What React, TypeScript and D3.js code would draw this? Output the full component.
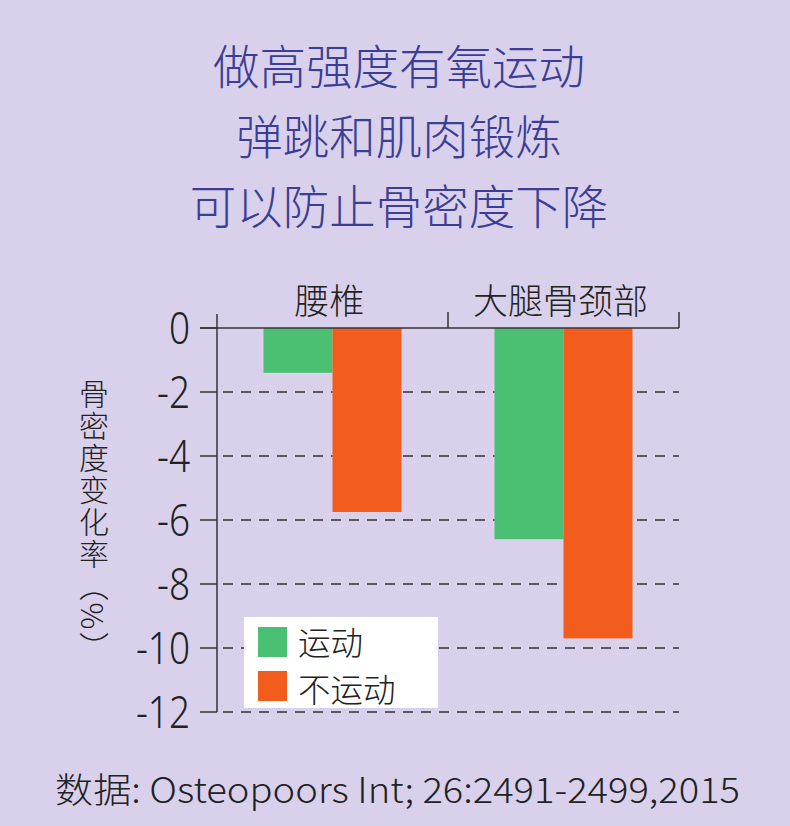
import React from "react";
import * as d3 from "d3";

const titleLines = ["做高强度有氧运动", "弹跳和肌肉锻炼", "可以防止骨密度下降"];
const categories = ["腰椎", "大腿骨颈部"];
const seriesNames = ["运动", "不运动"];
const exerciseValues = [-1.4, -6.6];
const noExerciseValues = [-5.75, -9.7];
const yTicks = [0, -2, -4, -6, -8, -10, -12];
const yLabel = "骨密度变化率（%）";
const source = "数据: Osteopoors Int; 26:2491-2499,2015";

const colors = ["#4cc072", "#f25c1c"];
const W = 790, H = 826;
const FONT = "'Noto Sans CJK SC', 'Noto Sans', sans-serif";

export default function App() {
  const left = 217, right = 679, top = 328, bottom = 712;
  const y = d3.scaleLinear().domain([0, -12]).range([top, bottom]);
  const x0 = d3.scaleBand().domain(categories).range([left, right]).paddingInner(0).paddingOuter(0);
  const inner = 138;
  const x1 = d3.scaleBand().domain(seriesNames).range([0, inner]);
  const series = [exerciseValues, noExerciseValues];
  const axisColor = "#333";

  return (
    <svg width={W} height={H} style={{ display: "block", position: "absolute", left: 0, top: 0 }}>
      <rect width={W} height={H} fill="#d9d1ec" />
      {titleLines.map((t, i) => (
        <text key={t} x={399} y={63 + i * 70} textAnchor="middle" dominantBaseline="central"
          fontFamily={FONT} fontSize={46.5} fill="#3b3d96" fontWeight={300}>{t}</text>
      ))}
      {yTicks.filter(v => v !== 0).map(v => (
        <line key={v} x1={left} x2={right} y1={y(v)} y2={y(v)} stroke={axisColor} strokeWidth={1.3}
          strokeDasharray="10 8" strokeDashoffset={-6} />
      ))}
      {categories.map((c, ci) => {
        const gx = (x0(c) as number) + (x0.bandwidth() - inner) / 2;
        return series.map((s, si) => (
          <rect key={c + si} x={gx + (x1(seriesNames[si]) as number)} y={y(0)}
            width={x1.bandwidth()} height={y(s[ci]) - y(0)} fill={colors[si]} />
        ));
      })}
      <line x1={200} x2={right} y1={y(0)} y2={y(0)} stroke={axisColor} strokeWidth={1.5} />
      <line x1={left} x2={left} y1={y(0) - 14} y2={y(-12)} stroke={axisColor} strokeWidth={1.5} />
      {yTicks.map(v => (
        <g key={v}>
          <line x1={200} x2={left} y1={y(v)} y2={y(v)} stroke={axisColor} strokeWidth={1.5} />
          <text transform={`translate(190,${y(v) + 16}) scale(0.84,1)`} textAnchor="end"
            fontFamily="'Noto Sans', sans-serif" fontSize={44} fill="#222" fontWeight={300}>
            {v === 0 ? "0" : `-${Math.abs(v)}`}
          </text>
        </g>
      ))}
      {categories.map(c => (
        <g key={c}>
          <line x1={(x0(c) as number) + x0.bandwidth()} x2={(x0(c) as number) + x0.bandwidth()}
            y1={y(0)} y2={y(0) - 16} stroke={axisColor} strokeWidth={1.5} />
          <text x={(x0(c) as number) + x0.bandwidth() / 2 - 3} y={298} textAnchor="middle" dominantBaseline="central"
            fontFamily={FONT} fontSize={35} fill="#222" fontWeight={300}>{c}</text>
        </g>
      ))}
      <text x={94} y={521} textAnchor="middle" dominantBaseline="central" fontFamily={FONT} fontSize={30}
        fill="#222" fontWeight={300} letterSpacing={2}
        style={{ writingMode: "vertical-rl" as any }}>{yLabel}</text>
      <rect x={244} y={617} width={194} height={91} fill="#fff" />
      {seriesNames.map((n, i) => (
        <g key={n}>
          <rect x={258} y={627 + i * 44} width={29} height={30} fill={colors[i]} />
          <text x={298} y={640 + i * 47} dominantBaseline="central" fontFamily={FONT} fontSize={32.5}
            fill="#222" fontWeight={300}>{n}</text>
        </g>
      ))}
      <text x={55} y={787} dominantBaseline="central" fontFamily={FONT} fontSize={35}
        fill="#222" fontWeight={300} textLength={685} lengthAdjust="spacingAndGlyphs">{source}</text>
    </svg>
  );
}
